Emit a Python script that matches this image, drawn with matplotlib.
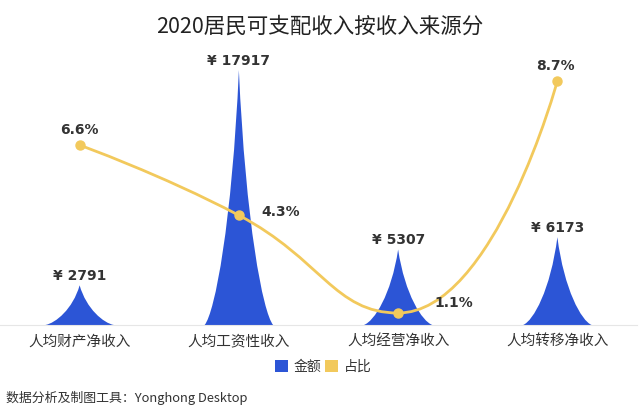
import matplotlib
matplotlib.use("Agg")
import matplotlib.pyplot as plt
from matplotlib.path import Path
from matplotlib.patches import PathPatch, Patch
import numpy as np

plt.rcParams['font.family'] = ['Noto Sans CJK SC', 'DejaVu Sans']

title = "2020居民可支配收入按收入来源分"
categories = ["人均财产净收入", "人均工资性收入", "人均经营净收入", "人均转移净收入"]
amounts = [2791, 17917, 5307, 6173]
shares = [6.6, 4.3, 1.1, 8.7]
footer = "数据分析及制图工具：Yonghong Desktop"

BLUE = "#2c55d6"
YELLOW = "#f2c95c"
TXT = "#333333"


def spike(x, h, w):
    # concave "pictorial bar" shape
    verts = [(x - w / 2, 0), (x + w / 2, 0),
             (x + 0.35 * w, 0.05 * h), (x + 0.10 * w, 0.40 * h), (x, h),
             (x - 0.10 * w, 0.40 * h), (x - 0.35 * w, 0.05 * h), (x - w / 2, 0),
             (x - w / 2, 0)]
    codes = [Path.MOVETO, Path.LINETO,
             Path.CURVE4, Path.CURVE4, Path.CURVE4,
             Path.CURVE4, Path.CURVE4, Path.CURVE4,
             Path.CLOSEPOLY]
    return Path(verts, codes)


def smooth_path(pts, smooth=0.5):
    # echarts-like smoothed line (control points clamped to neighbours)
    n = len(pts)
    verts = [tuple(pts[0])]
    codes = [Path.MOVETO]
    cp0 = pts[0].copy()
    for i in range(1, n):
        x, y = pts[i]
        px, py = pts[i - 1]
        if i == n - 1:
            cp1 = np.array([x, y])
            ncp0 = None
        else:
            nx, ny = pts[i + 1]
            vx, vy = nx - px, ny - py
            lp = np.hypot(x - px, y - py)
            ln = np.hypot(nx - x, ny - y)
            r = ln / (ln + lp)
            ncx = x + vx * smooth * r
            ncy = y + vy * smooth * r
            ncx = max(min(ncx, max(nx, x)), min(nx, x))
            ncy = max(min(ncy, max(ny, y)), min(ny, y))
            vx, vy = ncx - x, ncy - y
            c1x = x - vx * lp / ln
            c1y = y - vy * lp / ln
            c1x = max(min(c1x, max(px, x)), min(px, x))
            c1y = max(min(c1y, max(py, y)), min(py, y))
            vx, vy = x - c1x, y - c1y
            cp1 = np.array([c1x, c1y])
            ncp0 = np.array([x + vx * ln / lp, y + vy * ln / lp])
        verts += [tuple(cp0), tuple(cp1), (x, y)]
        codes += [Path.CURVE4] * 3
        cp0 = ncp0
    return np.array(verts), codes


fig = plt.figure(figsize=(6.4, 4.11), dpi=100)
ax = fig.add_axes([0, 86 / 411, 637 / 640, 275 / 411])
ax2 = ax.twinx()

xs = np.arange(len(categories))
ax.set_xlim(-0.5, len(categories) - 0.5)
ax.set_ylim(0, 19330)
ax2.set_ylim(0.707, 9.715)

for i, v in enumerate(amounts):
    ax.add_patch(PathPatch(spike(xs[i], v, 0.43), facecolor=BLUE, edgecolor='none', zorder=2))
    ax.annotate("¥ %d" % v, (xs[i], v), xytext=(0, 2), textcoords='offset pixels',
                ha='center', va='bottom', fontsize=10, fontweight='bold', color=TXT,
                family='DejaVu Sans')

# smoothed share line, computed in pixel space
disp = ax2.transData.transform(np.column_stack([xs, shares]))
verts, codes = smooth_path(disp)
data_verts = ax2.transData.inverted().transform(verts)
ax2.add_patch(PathPatch(Path(data_verts, codes), facecolor='none', edgecolor=YELLOW,
                        lw=2.0, zorder=3))
ax2.plot(xs, shares, 'o', color=YELLOW, ms=6.5, zorder=4)

label_off = [(0, 8), (22, 3), (36, 10), (-2, 8)]
label_ha = ['center', 'left', 'left', 'center']
label_va = ['bottom', 'center', 'center', 'bottom']
for i, s in enumerate(shares):
    ax2.annotate("%.1f%%" % s, (xs[i], s), xytext=label_off[i], textcoords='offset pixels',
                 ha=label_ha[i], va=label_va[i], fontsize=10, fontweight='bold',
                 color=TXT, family='DejaVu Sans')

for a in (ax, ax2):
    for sp in ['top', 'right', 'left']:
        a.spines[sp].set_visible(False)
    a.set_yticks([])
ax2.spines['bottom'].set_visible(False)
ax.spines['bottom'].set_color('#e6e6e6')
ax.set_xticks(xs)
ax.set_xticklabels(categories, fontsize=10.5, color=TXT)
ax.tick_params(axis='x', length=0, pad=7)

fig.text(0.5, 1 - 27 / 411, title, ha='center', va='center', fontsize=15.5, color='#222222')

handles = [Patch(facecolor=BLUE, label="金额"), Patch(facecolor=YELLOW, label="占比")]
fig.legend(handles=handles, loc='center', bbox_to_anchor=(0.505, 1 - 367 / 411), ncol=2,
           frameon=False, fontsize=10, handlelength=0.95, handleheight=0.95,
           handletextpad=0.4, columnspacing=0.3, labelcolor=TXT)

fig.text(6 / 640, 1 - 398 / 411, footer, ha='left', va='center', fontsize=9.3, color=TXT)

fig.savefig("out.png", dpi=100)
